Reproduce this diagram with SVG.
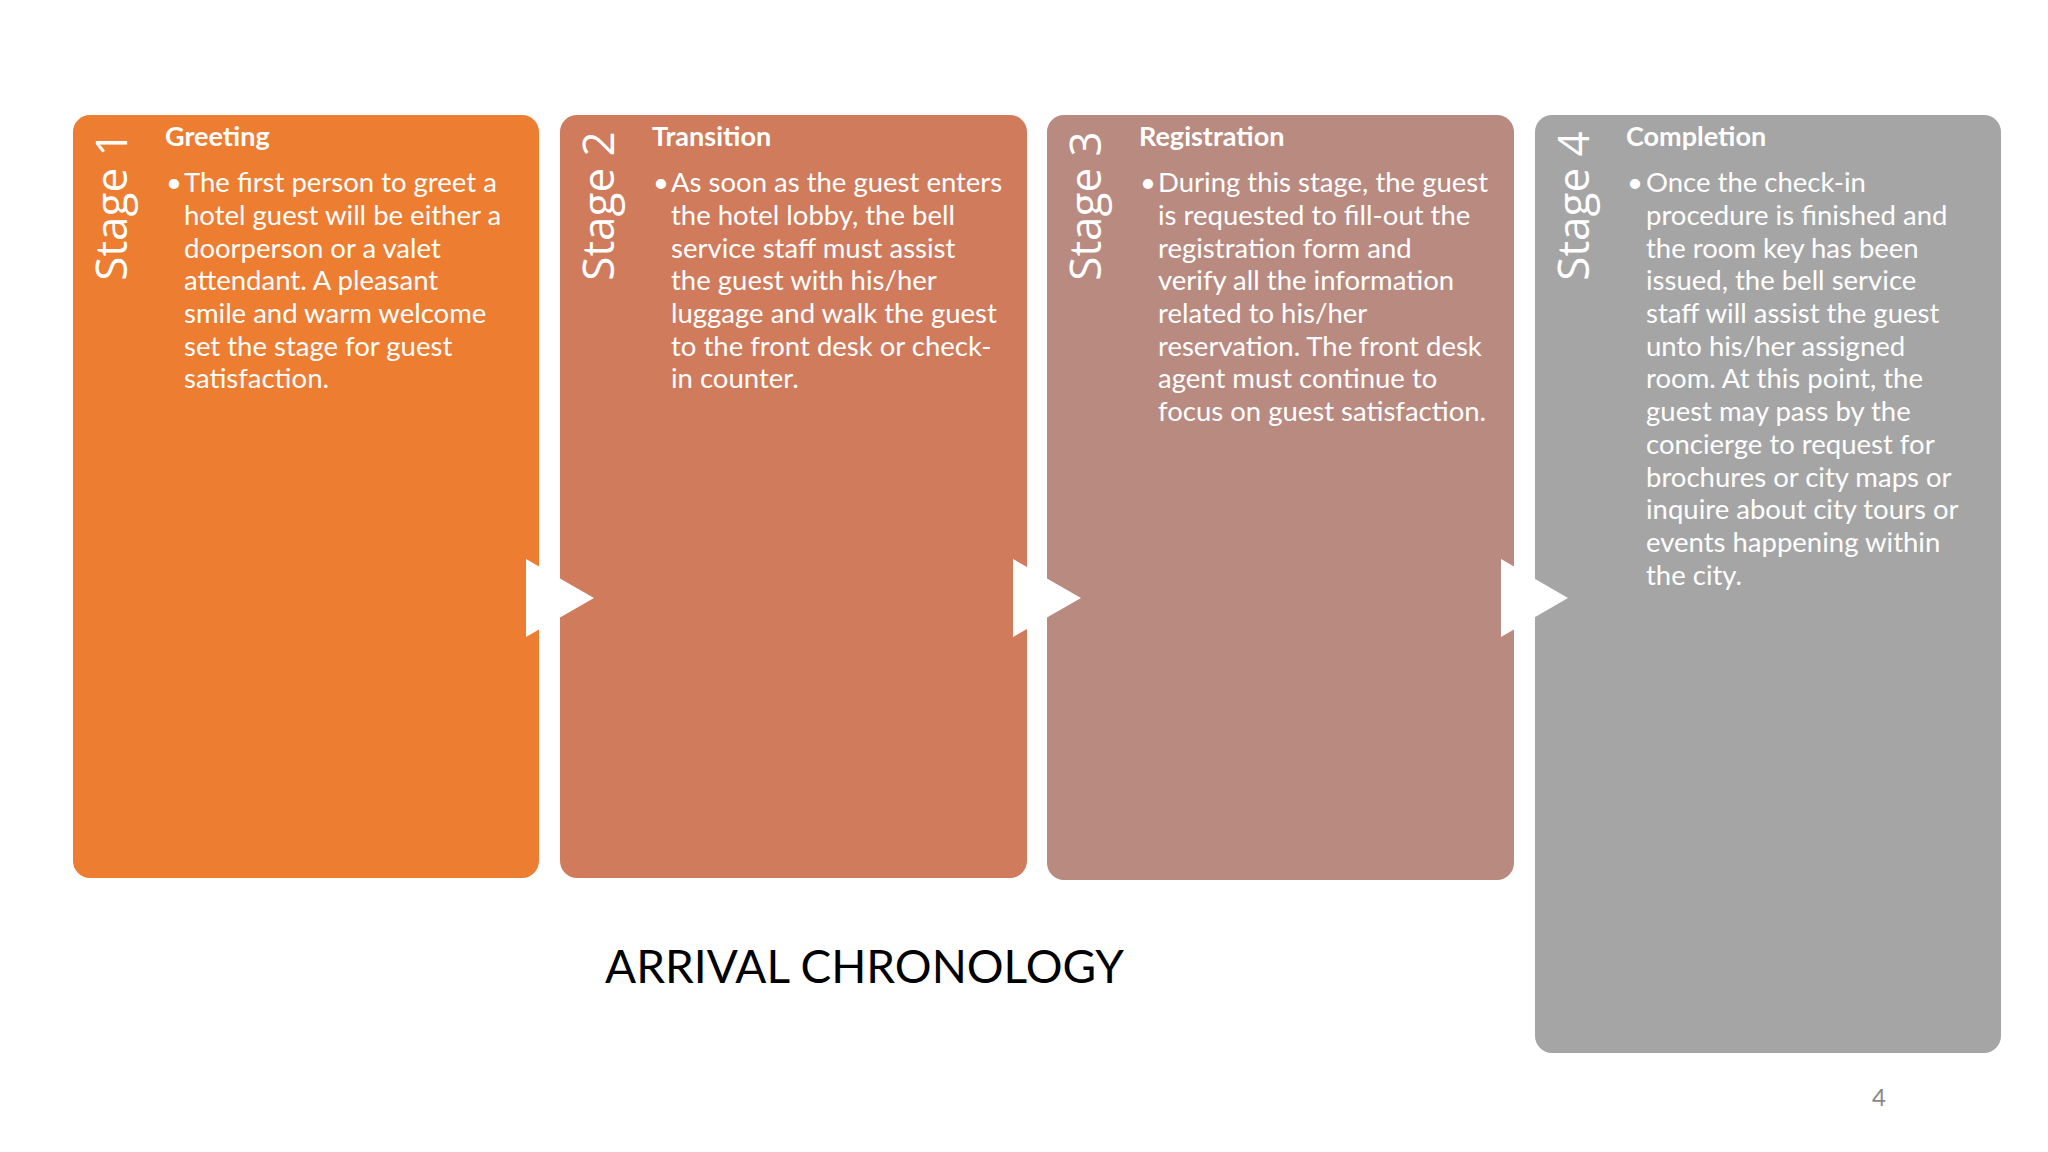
<svg xmlns="http://www.w3.org/2000/svg" width="2048" height="1152" viewBox="0 0 2048 1152">
<style>
.st{font-family:"Open Sans","Liberation Sans",sans-serif;font-size:44px;fill:#fff}
.ti{font-family:Lato,"Liberation Sans",sans-serif;font-weight:bold;font-size:27px;fill:#fff}
.tx{font-family:Lato,"Liberation Sans",sans-serif;font-size:27.5px;fill:#fff}
.ar{fill:#fff}
</style>
<rect width="2048" height="1152" fill="#fff"/>
<g id="stage1">
<rect x="73" y="115" width="466" height="763" rx="17" fill="#ED7D31"/>
<text class="st" transform="translate(127,206) rotate(-90)" text-anchor="middle">Stage 1</text>
<text class="ti" x="165" y="146">Greeting</text>
<text class="tx"><tspan x="166" y="192">•</tspan><tspan x="184" y="192">The first person to greet a</tspan><tspan x="184" y="225">hotel guest will be either a</tspan><tspan x="184" y="258">doorperson or a valet</tspan><tspan x="184" y="290">attendant. A pleasant</tspan><tspan x="184" y="323">smile and warm welcome</tspan><tspan x="184" y="356">set the stage for guest</tspan><tspan x="184" y="388">satisfaction.</tspan></text>
</g>
<g id="stage2">
<rect x="560" y="115" width="467" height="763" rx="17" fill="#D07B5C"/>
<text class="st" transform="translate(614,206) rotate(-90)" text-anchor="middle">Stage 2</text>
<text class="ti" x="652" y="146">Transition</text>
<text class="tx"><tspan x="653" y="192">•</tspan><tspan x="671" y="192">As soon as the guest enters</tspan><tspan x="671" y="225">the hotel lobby, the bell</tspan><tspan x="671" y="258">service staff must assist</tspan><tspan x="671" y="290">the guest with his/her</tspan><tspan x="671" y="323">luggage and walk the guest</tspan><tspan x="671" y="356">to the front desk or check-</tspan><tspan x="671" y="388">in counter.</tspan></text>
</g>
<g id="stage3">
<rect x="1047" y="115" width="467" height="765" rx="17" fill="#B98A80"/>
<text class="st" transform="translate(1101,206) rotate(-90)" text-anchor="middle">Stage 3</text>
<text class="ti" x="1139" y="146">Registration</text>
<text class="tx"><tspan x="1140" y="192">•</tspan><tspan x="1158" y="192">During this stage, the guest</tspan><tspan x="1158" y="225">is requested to fill-out the</tspan><tspan x="1158" y="258">registration form and</tspan><tspan x="1158" y="290">verify all the information</tspan><tspan x="1158" y="323">related to his/her</tspan><tspan x="1158" y="356">reservation. The front desk</tspan><tspan x="1158" y="388">agent must continue to</tspan><tspan x="1158" y="421">focus on guest satisfaction.</tspan></text>
</g>
<g id="stage4">
<rect x="1535" y="115" width="466" height="938" rx="17" fill="#A5A5A5"/>
<text class="st" transform="translate(1589,206) rotate(-90)" text-anchor="middle">Stage 4</text>
<text class="ti" x="1626" y="146">Completion</text>
<text class="tx"><tspan x="1627" y="192">•</tspan><tspan x="1646" y="192">Once the check-in</tspan><tspan x="1646" y="225">procedure is finished and</tspan><tspan x="1646" y="258">the room key has been</tspan><tspan x="1646" y="290">issued, the bell service</tspan><tspan x="1646" y="323">staff will assist the guest</tspan><tspan x="1646" y="356">unto his/her assigned</tspan><tspan x="1646" y="388">room. At this point, the</tspan><tspan x="1646" y="421">guest may pass by the</tspan><tspan x="1646" y="454">concierge to request for</tspan><tspan x="1646" y="487">brochures or city maps or</tspan><tspan x="1646" y="519">inquire about city tours or</tspan><tspan x="1646" y="552">events happening within</tspan><tspan x="1646" y="585">the city.</tspan></text>
</g>
<g id="connectors">
<polygon class="ar" points="526,559 594,598 526,637"/>
<polygon class="ar" points="1013,559 1081,598 1013,637"/>
<polygon class="ar" points="1501,559 1568,598 1501,637"/>
</g>
<text x="605" y="983" font-family="Lato,'Liberation Sans',sans-serif" font-size="46" fill="#000">ARRIVAL CHRONOLOGY</text>
<text x="1879" y="1106" font-family="Lato,'Liberation Sans',sans-serif" font-size="24" fill="#888" text-anchor="middle">4</text>
</svg>
